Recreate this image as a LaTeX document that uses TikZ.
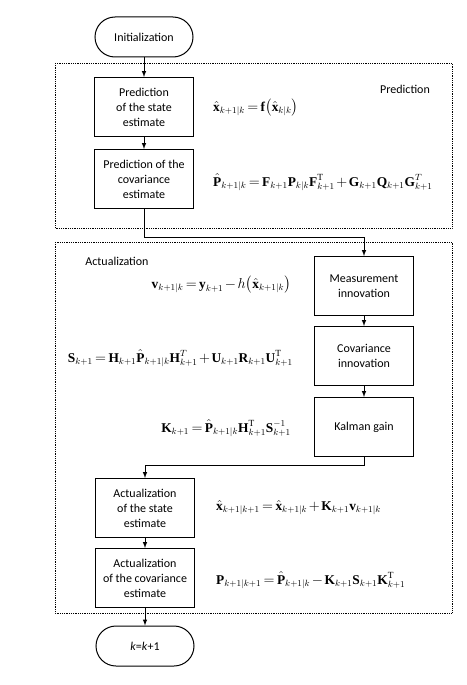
\documentclass[tikz,border=0pt]{standalone}
\usepackage{amsmath}
\usepackage{fontspec}
\setmainfont{Carlito}
\newfontfamily\eqfont{Liberation Serif}
\newcommand{\vb}[1]{\text{\eqfont\bfseries #1}}
\newcommand{\tp}{\text{\eqfont T}}
\usepackage{tikz}

\tikzset{
  stepbox/.style={draw, line width=1pt, rectangle, minimum width=99pt,
    minimum height=59pt, align=center, inner sep=2pt,
    font=\fontsize{12}{15}\selectfont},
  termbox/.style={draw, line width=1pt, rectangle, rounded corners=20pt,
    minimum width=98pt, minimum height=40pt,
    font=\fontsize{12}{15}\selectfont},
  flow/.style={line width=1pt, -latex},
  groupbox/.style={line width=0.8pt, densely dotted},
  grouptitle/.style={font=\fontsize{12}{15}\selectfont},
  eqn/.style={inner sep=0pt, font=\fontsize{13.4}{16}\selectfont,
    execute at begin node={\medmuskip=2mu\thickmuskip=3mu}}
}

\begin{document}
\begin{tikzpicture}[x=1pt, y=-1pt]
  \useasboundingbox (0, 0) rectangle (466, 685);

  % Prediction stage
  \draw[groupbox] (55, 63) rectangle (452, 228);
  \node[grouptitle] (ptitle) at (405, 89) {Prediction};

  \node[termbox] (init)   at (144, 37)  {Initialization};
  \node[stepbox] (pstate) at (144, 107) {Prediction\\of the state\\estimate};
  \node[stepbox] (pcov)   at (144, 179) {Prediction of the\\covariance\\estimate};

  \node[eqn, anchor=west] (eqxp) at (213, 108)
    {$\hat{\vb{x}}_{k+1|k} = \vb{f}\bigl(\hat{\vb{x}}_{k|k}\bigr)$};
  \node[eqn, anchor=west] (eqpp) at (213, 182)
    {$\hat{\vb{P}}_{k+1|k} = \vb{F}_{k+1}\vb{P}_{k|k}\vb{F}^{\tp}_{k+1}
      + \vb{G}_{k+1}\vb{Q}_{k+1}\vb{G}^{T}_{k+1}$};

  % Actualization stage
  \draw[groupbox] (55, 242) rectangle (452, 613);
  \node[grouptitle] (atitle) at (117, 261) {Actualization};

  \node[stepbox] (minn)   at (364, 286) {Measurement\\innovation};
  \node[stepbox] (cinn)   at (364, 356) {Covariance\\innovation};
  \node[stepbox] (gain)   at (364, 427) {Kalman gain};
  \node[stepbox] (astate) at (145, 508) {Actualization\\of the state\\estimate};
  \node[stepbox] (acov)   at (145, 578) {Actualization\\of the covariance\\estimate};
  \node[termbox] (next)   at (145, 646) {\textit{k}=\textit{k}+1};

  \node[eqn, anchor=east] (eqv) at (291, 285)
    {$\vb{v}_{k+1|k} = \vb{y}_{k+1} - h\bigl(\hat{\vb{x}}_{k+1|k}\bigr)$};
  \node[eqn, anchor=east] (eqs) at (293, 358)
    {$\vb{S}_{k+1} = \vb{H}_{k+1}\hat{\vb{P}}_{k+1|k}\vb{H}^{T}_{k+1}
      + \vb{U}_{k+1}\vb{R}_{k+1}\vb{U}^{\tp}_{k+1}$};
  \node[eqn, anchor=east] (eqk) at (291, 428)
    {$\vb{K}_{k+1} = \hat{\vb{P}}_{k+1|k}\vb{H}^{\tp}_{k+1}\vb{S}^{-1}_{k+1}$};
  \node[eqn, anchor=west] (eqxa) at (216, 508)
    {$\hat{\vb{x}}_{k+1|k+1} = \hat{\vb{x}}_{k+1|k} + \vb{K}_{k+1}\vb{v}_{k+1|k}$};
  \node[eqn, anchor=west] (eqpa) at (216, 580)
    {$\vb{P}_{k+1|k+1} = \hat{\vb{P}}_{k+1|k} - \vb{K}_{k+1}\vb{S}_{k+1}\vb{K}^{\tp}_{k+1}$};

  % Flow
  \draw[flow] (init) -- (pstate);
  \draw[flow] (pstate) -- (pcov);
  \draw[flow] (pcov.south) -- ++(0, 28) -| (minn.north);
  \draw[flow] (minn) -- (cinn);
  \draw[flow] (cinn) -- (gain);
  \draw[flow] (gain.south) -- ++(0, 8) -| (astate.north);
  \draw[flow] (astate) -- (acov);
  \draw[flow] (acov) -- (next);

\end{tikzpicture}
\end{document}
